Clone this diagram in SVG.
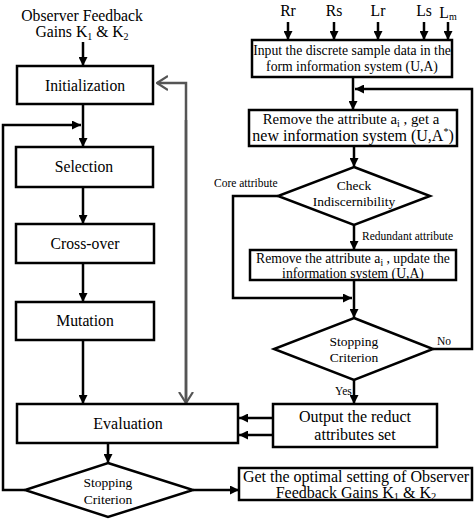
<svg xmlns="http://www.w3.org/2000/svg" width="474" height="521" viewBox="0 0 474 521">
<style>
text{font-family:"Liberation Serif","Times New Roman",serif;fill:#000;text-anchor:middle}
.box{fill:#fff;stroke:#000;stroke-width:2.5}
.ln{fill:none;stroke:#000;stroke-width:2.5}
.g{fill:none;stroke:#555;stroke-width:2.5}
.f16{font-size:16px}.f15{font-size:15.7px}.f14{font-size:13.7px}.f13{font-size:13.5px}.f11{font-size:11.5px}
</style>
<defs>
<marker id="a" viewBox="0 0 10 10" refX="10" refY="5" markerWidth="9" markerHeight="9" markerUnits="userSpaceOnUse" orient="auto">
<path d="M0,0 L10,5 L0,10 z" fill="#000"/>
</marker>
<marker id="o" viewBox="0 0 12 16" refX="11" refY="8" markerWidth="12" markerHeight="16" markerUnits="userSpaceOnUse" orient="auto">
<path d="M0,1 L11,8 L0,15" fill="none" stroke="#555" stroke-width="2.2"/>
</marker>
</defs>

<g id="connectors">
<line class="ln" x1="83" y1="42" x2="83" y2="66" marker-end="url(#a)"/>
<line class="ln" x1="83" y1="104" x2="83" y2="147" marker-end="url(#a)"/>
<polyline class="ln" points="25,490 3,490 3,125 81,125" marker-end="url(#a)"/>
<line class="ln" x1="83" y1="187" x2="83" y2="224" marker-end="url(#a)"/>
<line class="ln" x1="83" y1="263" x2="83" y2="302" marker-end="url(#a)"/>
<line class="ln" x1="83" y1="340" x2="83" y2="404" marker-end="url(#a)"/>
<line class="ln" x1="108" y1="443" x2="108" y2="463" marker-end="url(#a)"/>
<line class="ln" x1="193" y1="490" x2="239" y2="490" marker-end="url(#a)"/>
<polyline class="g" points="186,400 186,83 157,83" marker-end="url(#o)"/>
<line class="g" x1="186" y1="120" x2="186" y2="403" marker-end="url(#o)"/>
<line class="ln" x1="288" y1="22" x2="288" y2="40" marker-end="url(#a)"/>
<line class="ln" x1="334" y1="22" x2="334" y2="40" marker-end="url(#a)"/>
<line class="ln" x1="378" y1="22" x2="378" y2="40" marker-end="url(#a)"/>
<line class="ln" x1="424" y1="22" x2="424" y2="40" marker-end="url(#a)"/>
<line class="ln" x1="448" y1="22" x2="448" y2="40" marker-end="url(#a)"/>
<line class="ln" x1="353" y1="77" x2="353" y2="110" marker-end="url(#a)"/>
<polyline class="ln" points="433,349 472,349 472,89 355,89" marker-end="url(#a)"/>
<line class="ln" x1="354" y1="146" x2="354" y2="167" marker-end="url(#a)"/>
<polyline class="ln" points="278,196 233,196 233,298 352,298" marker-end="url(#a)"/>
<line class="ln" x1="354" y1="225" x2="354" y2="250" marker-end="url(#a)"/>
<line class="ln" x1="354" y1="280" x2="354" y2="318" marker-end="url(#a)"/>
<line class="ln" x1="354" y1="380" x2="354" y2="404" marker-end="url(#a)"/>
<line class="ln" x1="273" y1="418" x2="239" y2="418" marker-end="url(#a)"/>
<line class="ln" x1="273" y1="435" x2="239" y2="435" marker-end="url(#a)"/>
</g>

<g id="title">
<text class="f15" x="82" y="21">Observer Feedback</text>
<text class="f15" x="82" y="37">Gains K<tspan font-size="10" dy="3">1</tspan><tspan dy="-3"> &amp; K</tspan><tspan font-size="10" dy="3">2</tspan></text>
</g>
<g id="init"><rect class="box" x="17" y="66" width="136" height="38"/><text class="f15" x="85" y="91">Initialization</text></g>
<g id="selection"><rect class="box" x="16" y="147" width="137" height="40"/><text class="f15" x="84" y="172">Selection</text></g>
<g id="crossover"><rect class="box" x="16" y="224" width="138" height="39"/><text class="f15" x="85" y="249">Cross-over</text></g>
<g id="mutation"><rect class="box" x="16" y="302" width="138" height="38"/><text class="f15" x="85" y="326">Mutation</text></g>
<g id="evaluation"><rect class="box" x="17" y="404" width="221" height="39"/><text class="f16" x="128" y="429">Evaluation</text></g>
<g id="stop1"><polygon class="box" points="108,463 193,490 108,517 25,490"/><text class="f13" x="108" y="487">Stopping</text><text class="f13" x="108" y="504">Criterion</text></g>
<g id="optimal"><rect class="box" x="239" y="468" width="233" height="32"/><text class="f16" x="356" y="482">Get the optimal setting of Observer</text><text class="f16" x="356" y="497.5">Feedback Gains K<tspan font-size="10.5" dy="2.5">1</tspan><tspan dy="-2.5"> &amp; K</tspan><tspan font-size="10.5" dy="2.5">2</tspan></text></g>

<g id="inputs">
<text class="f15" x="288" y="16">Rr</text>
<text class="f15" x="334" y="16">Rs</text>
<text class="f15" x="378" y="16">Lr</text>
<text class="f15" x="424" y="16">Ls</text>
<text class="f15" x="448" y="18">L<tspan font-size="10" dy="2">m</tspan></text>
</g>
<g id="input"><rect class="box" x="252" y="40" width="200" height="37"/><text class="f14" x="352" y="55">Input the discrete sample data in the</text><text class="f14" x="352" y="71">form information system (U,A)</text></g>
<g id="remove1"><rect class="box" x="249" y="110" width="208" height="36"/><text font-size="14.8" x="351" y="124">Remove the attribute a<tspan font-size="10" dy="2.5">i</tspan><tspan dy="-2.5"> , get a</tspan></text><text class="f16" x="353" y="141">new information system  (U,A<tspan font-size="10" dy="-6">*</tspan><tspan dy="6">)</tspan></text></g>
<g id="check"><polygon class="box" points="354,167 430,196 354,225 278,196"/><text class="f13" x="354" y="190">Check</text><text class="f13" x="354" y="206">Indiscernibility</text></g>
<text class="f11" x="214" y="187" style="text-anchor:start">Core attribute</text>
<text class="f11" x="362" y="240" style="text-anchor:start">Redundant attribute</text>
<g id="remove2"><rect class="box" x="250" y="250" width="206" height="30"/><text class="f14" x="353" y="263">Remove the attribute a<tspan font-size="9.5" dy="2.5">i</tspan><tspan dy="-2.5"> , update the</tspan></text><text class="f14" x="353" y="278">information system (U,A)</text></g>
<g id="stop2"><polygon class="box" points="354,318 433,349 354,380 274,349"/><text class="f13" x="354" y="346">Stopping</text><text class="f13" x="354" y="362">Criterion</text></g>
<text class="f11" x="335" y="395" style="text-anchor:start">Yes</text>
<text class="f11" x="437" y="345" style="text-anchor:start">No</text>
<g id="output"><rect class="box" x="273" y="404" width="164" height="43"/><text class="f16" x="355" y="422">Output the reduct</text><text class="f16" x="355" y="440">attributes set</text></g>
</svg>
